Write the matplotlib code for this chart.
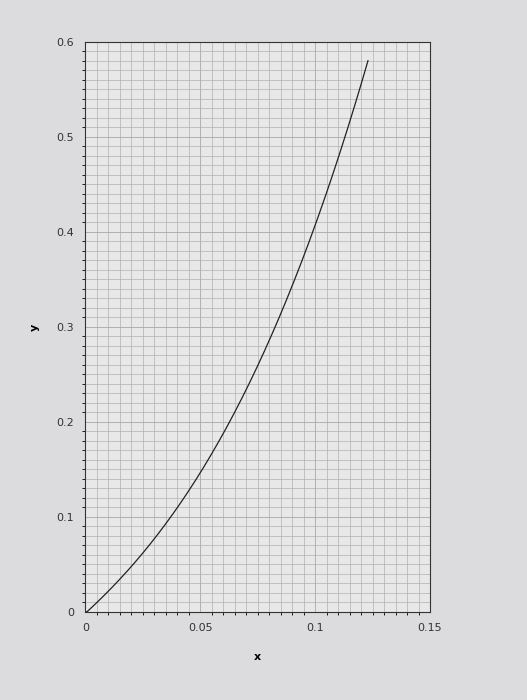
import matplotlib
matplotlib.use("Agg")
import matplotlib.pyplot as plt
import numpy as np
from matplotlib.ticker import MultipleLocator

x_vals = [0.0, 0.0125, 0.025, 0.0375, 0.05, 0.0625, 0.075, 0.0875, 0.1, 0.1125, 0.123]
y_vals = [0.0, 0.027, 0.06, 0.10, 0.147, 0.20, 0.262, 0.33, 0.405, 0.49, 0.585]
x_ticks = [0, 0.05, 0.1, 0.15]
x_labels = ["0", "0.05", "0.1", "0.15"]
y_ticks = [0, 0.1, 0.2, 0.3, 0.4, 0.5, 0.6]
y_labels = ["0", "0.1", "0.2", "0.3", "0.4", "0.5", "0.6"]

fig = plt.figure(figsize=(5.27, 7.0), dpi=100)
fig.patch.set_facecolor("#dcdcde")
ax = fig.add_axes([0.162, 0.126, 0.654, 0.814])
ax.set_facecolor("#e8e8e8")

coef = np.polyfit(x_vals, y_vals, 3)
xs = np.linspace(0, x_vals[-1], 300)
ys = np.clip(np.polyval(coef, xs), 0, None)
ax.plot(xs, ys, color="#222222", lw=0.9)

ax.set_xlim(0, 0.15)
ax.set_ylim(0, 0.6)
ax.set_xticks(x_ticks)
ax.set_xticklabels(x_labels)
ax.set_yticks(y_ticks)
ax.set_yticklabels(y_labels)
ax.xaxis.set_minor_locator(MultipleLocator(0.005))
ax.yaxis.set_minor_locator(MultipleLocator(0.01))
ax.grid(which="major", color="#a8a8a8", lw=0.6)
ax.grid(which="minor", color="#b0b0b0", lw=0.5)
ax.tick_params(length=0, labelsize=8, colors="#333333", pad=8)
for s in ax.spines.values():
    s.set_color("#333333")
    s.set_linewidth(0.8)
ax.set_xlabel("x", fontsize=8, fontweight="bold", labelpad=14)
ax.set_ylabel("y", fontsize=8, fontweight="bold", labelpad=12)

fig.savefig("out.png", dpi=100, facecolor=fig.get_facecolor())
